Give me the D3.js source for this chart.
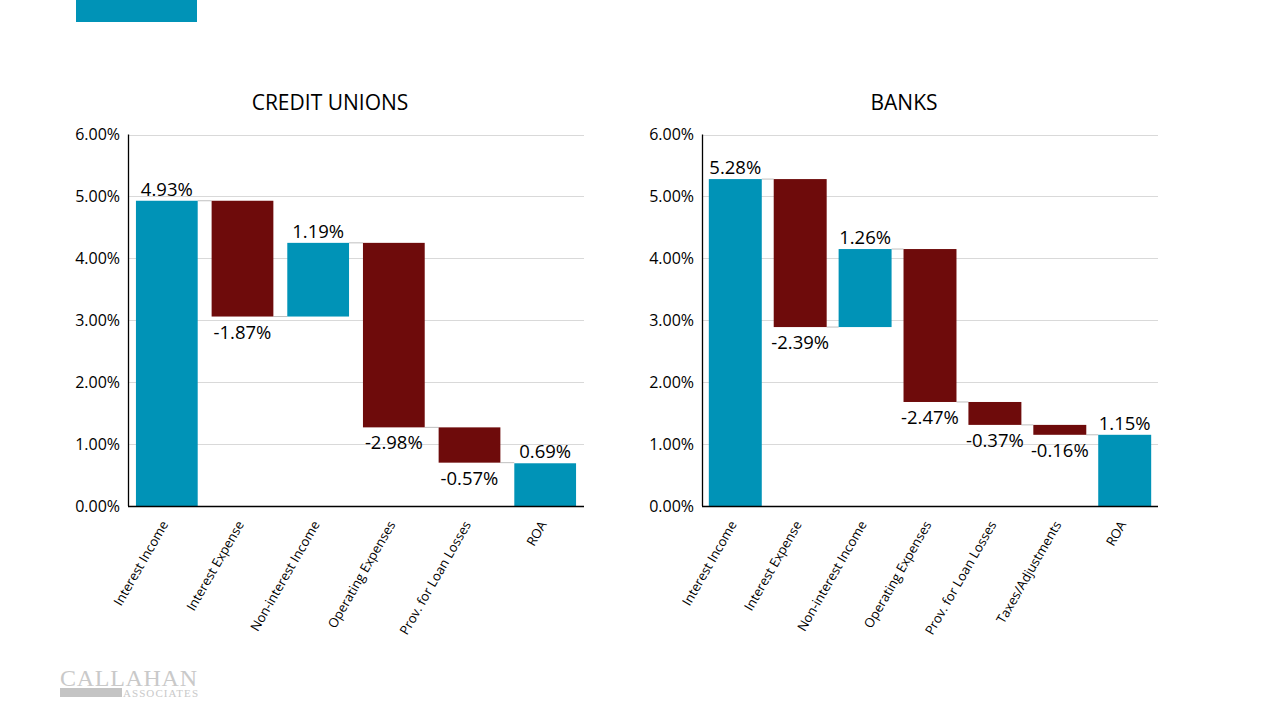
<!DOCTYPE html>
<html lang="en">
<head>
<meta charset="UTF-8">
<title>ROA waterfall</title>
<script src="https://cdn.jsdelivr.net/npm/d3@7"></script>
<style>
    body { margin: 0; background: #fff; font-family: "Open Sans", "Noto Sans", sans-serif; }
    svg { display: block; }
    .grid line { stroke: #d9d9d9; stroke-width: 1; }
    .tick-label { font-size: 16px; fill: #000; }
    .val { font-size: 18.5px; fill: #000; text-anchor: middle; }
    .cat { font-size: 13px; fill: #000; text-anchor: end; }
    .title { font-size: 21px; fill: #000; text-anchor: middle; }
</style>
</head>
<body>
<script>
// data
const cuCategories = ['Interest Income', 'Interest Expense', 'Non-interest Income', 'Operating Expenses', 'Prov. for Loan Losses', 'ROA']
const cuValues = [4.93, -1.87, 1.19, -2.98, -0.57, 0.69]
const cuTotals = [true, false, false, false, false, true]

const bankCategories = ['Interest Income', 'Interest Expense', 'Non-interest Income', 'Operating Expenses', 'Prov. for Loan Losses', 'Taxes/Adjustments', 'ROA']
const bankValues = [5.28, -2.39, 1.26, -2.47, -0.37, -0.16, 1.15]
const bankTotals = [true, false, false, false, false, false, true]

const yTicks = [0, 1, 2, 3, 4, 5, 6]

const teal = '#0093b7'
const maroon = '#6e0b0b'

// plain hyphen instead of d3's unicode minus
const pct = d => d3.format('.2f')(d).replace('\u2212', '-') + '%'

const svg = d3.select('body').append('svg')
    .attr('width', 1280)
    .attr('height', 720)

// header block
svg.append('rect').attr('x', 76).attr('y', 0).attr('width', 121).attr('height', 22).attr('fill', teal)

function waterfall (title, cats, vals, totals, x0, x1, titleX) {
    const top = 134.5, bottom = 506
    const y = d3.scaleLinear().domain([0, 6]).range([bottom, top])
    const x = d3.scaleBand().domain(cats).range([x0, x1]).paddingInner(0.184).paddingOuter(0.105)
    const g = svg.append('g')

    // running levels
    let run = 0
    const bars = vals.map((v, i) => {
        let a, b
        if (totals[i]) { a = 0; b = v; run = v }
        else { a = run; b = run + v; run = b }
        return { cat: cats[i], v: v, a: a, b: b }
    })

    g.append('g').attr('class', 'grid')
        .selectAll('line').data(yTicks.filter(t => t > 0)).enter()
        .append('line')
        .attr('x1', x0).attr('x2', x1)
        .attr('y1', d => Math.round(y(d)) + 0.5).attr('y2', d => Math.round(y(d)) + 0.5)

    g.selectAll('.tick-label').data(yTicks).enter()
        .append('text').attr('class', 'tick-label')
        .attr('x', x0 - 8).attr('y', d => y(d))
        .attr('dy', '0.36em').attr('text-anchor', 'end')
        .text(d => pct(d))

    // connectors
    g.selectAll('.conn').data(bars.slice(0, -1)).enter()
        .append('line')
        .attr('x1', d => x(d.cat) + x.bandwidth())
        .attr('x2', (d, i) => x(bars[i + 1].cat))
        .attr('y1', d => y(d.b)).attr('y2', d => y(d.b))
        .attr('stroke', '#bfbfbf').attr('stroke-width', 1)

    g.selectAll('.bar').data(bars).enter()
        .append('rect')
        .attr('x', d => x(d.cat))
        .attr('width', x.bandwidth())
        .attr('y', d => y(Math.max(d.a, d.b)))
        .attr('height', d => Math.abs(y(d.a) - y(d.b)))
        .attr('fill', d => d.v < 0 ? maroon : teal)

    g.selectAll('.val').data(bars).enter()
        .append('text').attr('class', 'val')
        .attr('x', d => x(d.cat) + x.bandwidth() / 2)
        .attr('y', d => d.v < 0 ? y(d.b) + 22 : y(d.b) - 5)
        .text(d => pct(d.v))

    // axes lines
    g.append('line').attr('x1', x0 + 0.5).attr('x2', x0 + 0.5).attr('y1', top).attr('y2', bottom)
        .attr('stroke', '#000').attr('stroke-width', 1.3)
    g.append('line').attr('x1', x0).attr('x2', x1).attr('y1', bottom + 0.5).attr('y2', bottom + 0.5)
        .attr('stroke', '#000').attr('stroke-width', 1.3)

    g.selectAll('.cat').data(cats).enter()
        .append('text').attr('class', 'cat')
        .attr('transform', d => 'translate(' + (x(d) + x.bandwidth() / 2 - 2) + ',' + (bottom + 16) + ') rotate(-60)')
        .attr('dy', '0.35em')
        .text(d => d)

    g.append('text').attr('class', 'title')
        .attr('x', titleX).attr('y', 110)
        .text(title)
}

waterfall('CREDIT UNIONS', cuCategories, cuValues, cuTotals, 128, 584, 330)
waterfall('BANKS', bankCategories, bankValues, bankTotals, 702, 1158, 904)

// logo
const logo = svg.append('g')
logo.append('text').attr('x', 60).attr('y', 686)
    .attr('font-family', '"Liberation Serif", serif').attr('font-size', 24)
    .attr('textLength', 137).attr('fill', '#c9c9c9').text('CALLAHAN')
logo.append('rect').attr('x', 60).attr('y', 688).attr('width', 62).attr('height', 9).attr('fill', '#c4c4c4')
logo.append('text').attr('x', 123).attr('y', 697)
    .attr('font-family', '"Liberation Serif", serif').attr('font-size', 11)
    .attr('textLength', 75).attr('fill', '#c9c9c9').text('ASSOCIATES')
</script>
</body>
</html>
